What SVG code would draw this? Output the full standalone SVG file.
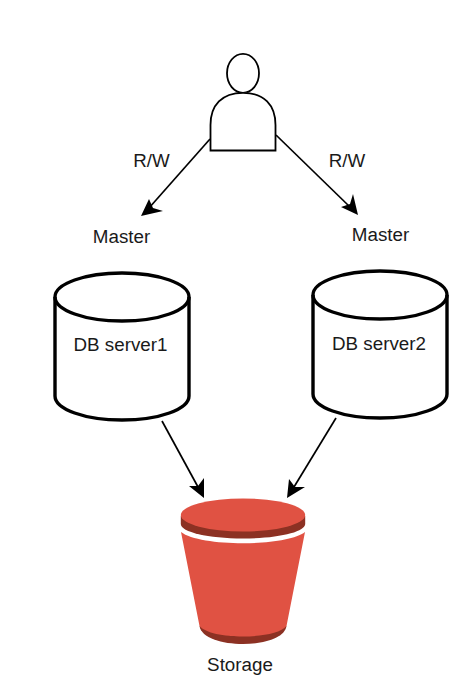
<svg xmlns="http://www.w3.org/2000/svg" width="474" height="699" viewBox="0 0 474 699">
<style>
.t{font-family:"Liberation Sans",Arial,sans-serif;font-size:18.800px;fill:#1a1a1a;text-anchor:middle}
.s{fill:#fff;stroke:#000}
.c{fill:none;stroke:#000;stroke-width:1.700}
.a{fill:#000;stroke:none}
.db{stroke-width:3.400}
</style>
<defs>
<g id="cyl">
<path class="s db" d="M0 24C0 10.700 30 0 67 0S134 10.700 134 24V123C134 136.300 104 147 67 147S0 136.300 0 123Z"/>
<path class="s db" style="fill:none" d="M0 24C0 37.300 30 48 67 48S134 37.300 134 24"/>
</g>
</defs>
<rect width="474" height="699" fill="#fff"/>
<g id="connectors">
<path class="c" d="M210 139L149 208"/><path class="a" d="M141 216L149 199L153 208L163 211Z"/>
<path class="c" d="M276 135L350 207"/><path class="a" d="M358 215L341 207L350 204L353 194Z"/>
<path class="c" d="M162 421L198 487"/><path class="a" d="M204 498L189 486L198 486L204 478Z"/>
<path class="c" d="M336 418L294 487"/><path class="a" d="M287 498L289 479L295 487L305 487Z"/>
</g>
<g id="user">
<ellipse class="s" cx="243" cy="73.300" rx="16" ry="19.500" stroke-width="1.800"/>
<path class="s" stroke-width="1.800" d="M210.500 150.500V125C210.500 105 222 92.800 243 92.800S275.500 105 275.500 125V150.500Z"/>
<text class="t" x="151.500" y="167">R/W</text>
<text class="t" x="347" y="167">R/W</text>
</g>
<g id="master1"><text class="t" x="121.500" y="243">Master</text></g>
<g id="master2"><text class="t" x="380.500" y="240.500">Master</text></g>
<g id="db1">
<use href="#cyl" x="55" y="273"/>
<text class="t" x="120.500" y="351">DB server1</text>
</g>
<g id="db2">
<use href="#cyl" x="313" y="271"/>
<text class="t" x="379" y="350">DB server2</text>
</g>
<g id="storage">
<path fill="#8c3123" d="M199.500 626C203 650 283 650 286.500 626Z"/>
<path fill="#e05243" d="M181 532C200 547 286 547 305 532L286.500 626C275 640 211 640 199.500 626Z"/>
<path fill="#8c3123" d="M180.800 516V524C180.800 532 208 538.500 243 538.500S305.200 532 305.200 524V516Z"/>
<ellipse cx="243" cy="515" rx="62.200" ry="16.500" fill="#e05243"/>
<text class="t" x="240" y="671">Storage</text>
</g>
</svg>
